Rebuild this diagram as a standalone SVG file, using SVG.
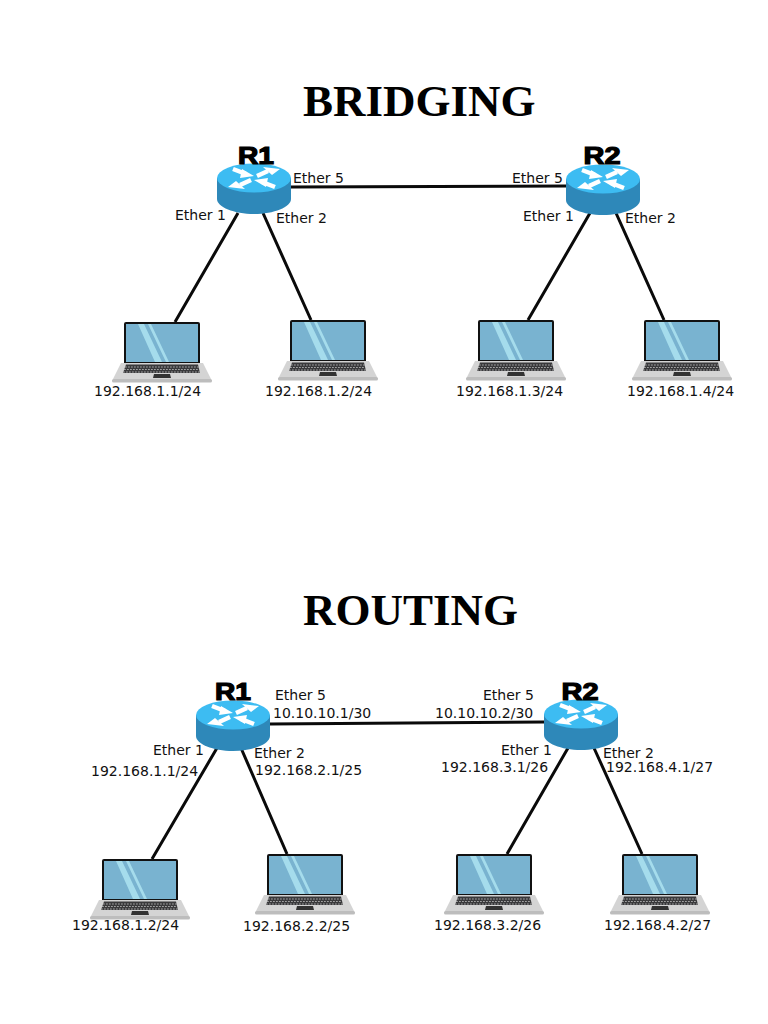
<svg xmlns="http://www.w3.org/2000/svg" xmlns:xlink="http://www.w3.org/1999/xlink" width="768" height="1024" viewBox="0 0 768 1024">
<style>
.title{font-family:"Liberation Serif",serif;font-weight:bold;font-size:45px;fill:#000}
.rn{font-family:"Liberation Sans",sans-serif;font-weight:bold;font-size:23.5px;fill:#000;stroke:#000;stroke-width:1.200px;text-anchor:middle}
.l{font-family:"DejaVu Sans",sans-serif;font-size:14px;fill:#111}
.c{stroke:#0a0a0a;stroke-width:3;fill:none}
</style>
<defs>
<g id="router">
<path d="M-37 0V21C-37 29-20 36 0 36S37 29 37 21V0Z" fill="#2e88b9"/>
<ellipse cx="0" cy="0" rx="37" ry="14.500" fill="#3dbcf2"/>
<path d="M-21-9L-8-4M3-2L14-7M-3 2L-14 7M21 9L8 4" stroke="#fff" stroke-width="4.500" fill="none"/>
<path d="M-12-9L0-2L-14 0ZM9-11L26-9L18-3ZM-9 11L-26 9L-18 3ZM12 9L0 2L14 0Z" fill="#fff"/>
</g>
<g id="laptop">
<path d="M0 2Q0 0 2 0H74Q76 0 76 2V41H0Z" fill="#111"/>
<rect x="2" y="2" width="72" height="38" fill="#79b3d0"/>
<path d="M14 2L20 2L38 40L31 40ZM24 2L27 2L45 40L42 40Z" fill="#a5dcec"/>
<path d="M-3 41H79L87 57H-11Z" fill="#d4d4d4"/>
<path d="M2 42.500H74L76 51H-1Z" fill="#3a3a3c"/>
<path d="M1 45H75M0 47.500H76M-1 50H77" stroke="#bbb" stroke-width=".8" stroke-dasharray="1.800 1.200" fill="none"/>
<path d="M30 52H46L47 56H29Z" fill="#333"/>
<rect x="-12" y="57" width="100" height="3.500" rx="1.500" fill="#bdbdbd"/>
</g>
</defs>
<rect width="768" height="1024" fill="#fff"/>
<g id="connectors">
<path class="c" d="M291 187L566 186M238 213L175 322M263 213L311 320M590 213L528 320M616 213L664 320"/>
<path class="c" d="M270 724L544 722M217 748L152 859M241 748L287 854M568 748L507 854M594 748L642 854"/>
</g>
<g id="title-bridging"><text class="title" x="303" y="116">BRIDGING</text></g>
<g id="title-routing"><text class="title" x="303" y="625">ROUTING</text></g>
<g id="b-r1"><use href="#router" x="254" y="178"/><text class="rn" x="256" y="164" textLength="36" lengthAdjust="spacingAndGlyphs">R1</text></g>
<g id="b-r2"><use href="#router" x="603" y="179"/><text class="rn" x="602" y="164" textLength="37" lengthAdjust="spacingAndGlyphs">R2</text></g>
<g id="b-labels">
<text class="l" x="293" y="183">Ether 5</text><text class="l" x="512" y="183">Ether 5</text>
<text class="l" x="175" y="220">Ether 1</text><text class="l" x="276" y="223">Ether 2</text>
<text class="l" x="523" y="221">Ether 1</text><text class="l" x="625" y="223">Ether 2</text>
</g>
<g id="b-pc1"><use href="#laptop" x="124" y="322"/><text class="l" x="94" y="396">192.168.1.1/24</text></g>
<g id="b-pc2"><use href="#laptop" x="290" y="320"/><text class="l" x="265" y="396">192.168.1.2/24</text></g>
<g id="b-pc3"><use href="#laptop" x="478" y="320"/><text class="l" x="456" y="396">192.168.1.3/24</text></g>
<g id="b-pc4"><use href="#laptop" x="644" y="320"/><text class="l" x="627" y="396">192.168.1.4/24</text></g>
<g id="r-r1"><use href="#router" x="233" y="715"/><text class="rn" x="233" y="700" textLength="36" lengthAdjust="spacingAndGlyphs">R1</text></g>
<g id="r-r2"><use href="#router" x="581" y="714"/><text class="rn" x="580" y="700" textLength="37" lengthAdjust="spacingAndGlyphs">R2</text></g>
<g id="r-labels">
<text class="l" x="275" y="700">Ether 5</text><text class="l" x="273" y="718">10.10.10.1/30</text>
<text class="l" x="483" y="700">Ether 5</text><text class="l" x="435" y="718">10.10.10.2/30</text>
<text class="l" x="153" y="755">Ether 1</text><text class="l" x="91" y="776">192.168.1.1/24</text>
<text class="l" x="254" y="758">Ether 2</text><text class="l" x="255" y="775">192.168.2.1/25</text>
<text class="l" x="501" y="755">Ether 1</text><text class="l" x="441" y="772">192.168.3.1/26</text>
<text class="l" x="603" y="758">Ether 2</text><text class="l" x="606" y="772">192.168.4.1/27</text>
</g>
<g id="r-pc1"><use href="#laptop" x="102" y="859"/><text class="l" x="72" y="930">192.168.1.2/24</text></g>
<g id="r-pc2"><use href="#laptop" x="267" y="854"/><text class="l" x="243" y="931">192.168.2.2/25</text></g>
<g id="r-pc3"><use href="#laptop" x="456" y="854"/><text class="l" x="434" y="930">192.168.3.2/26</text></g>
<g id="r-pc4"><use href="#laptop" x="622" y="854"/><text class="l" x="604" y="930">192.168.4.2/27</text></g>
</svg>
